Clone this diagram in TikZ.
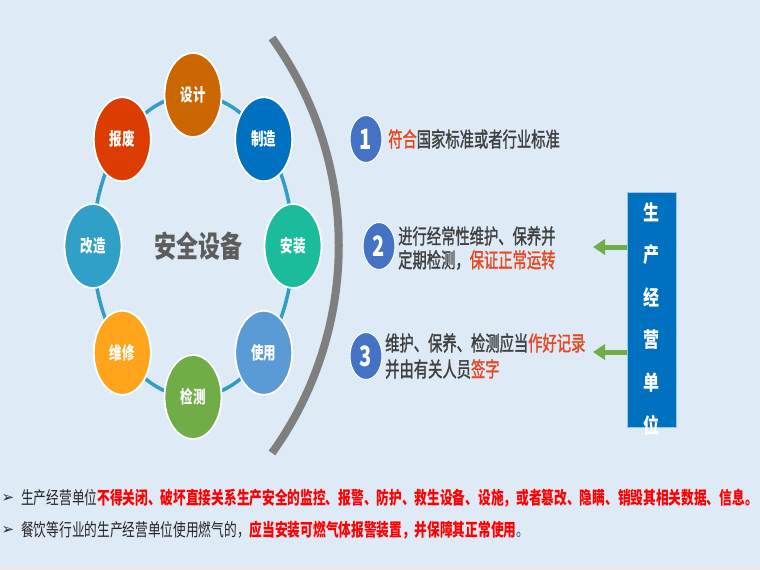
\documentclass[tikz,border=0pt]{standalone}
\usepackage{fontspec}
\setmainfont{Noto Sans CJK SC}
\newfontfamily\semifont[FakeBold=1.6]{Noto Sans CJK SC}
\newfontfamily\symfont{DejaVu Sans}
\usepackage{xcolor}
\usetikzlibrary{arrows.meta,positioning,calc,shapes.geometric}
\definecolor{pagebg}{HTML}{DEEBF7}
\definecolor{footgray}{HTML}{E6E8EC}
\definecolor{ringblue}{HTML}{2F9DC6}
\definecolor{arcgray}{HTML}{7F7F7F}
\definecolor{designorange}{HTML}{CC6600}
\definecolor{makeblue}{HTML}{0070C0}
\definecolor{installgreen}{HTML}{1BBC9B}
\definecolor{useblue}{HTML}{5B9BD5}
\definecolor{testgreen}{HTML}{70AD47}
\definecolor{repairorange}{HTML}{FFA41B}
\definecolor{rebuildblue}{HTML}{31A0C8}
\definecolor{scrapred}{HTML}{DD3C00}
\definecolor{numblue}{HTML}{4472C4}
\definecolor{textgray}{HTML}{404040}
\definecolor{hotred}{HTML}{E8461E}
\definecolor{unitblue}{HTML}{0070C0}
\definecolor{unitedge}{HTML}{9DC3E6}
\definecolor{feedgreen}{HTML}{70AD47}
\definecolor{alarmred}{HTML}{FF0000}
\definecolor{notegray}{HTML}{262626}
\definecolor{dotblue}{HTML}{2F5597}
\newcommand{\vstr}[2][1.4]{\scalebox{1}[#1]{#2}}

\begin{document}
\begin{tikzpicture}[x=1pt,y=-1pt,
  stage/.style={ellipse,draw=white,line width=1.8pt,minimum width=57pt,minimum height=84pt,
    inner sep=0pt,text=white,font=\fontsize{12.5}{14}\selectfont\bfseries},
  coretext/.style={inner sep=0pt,text=textgray!85,font=\fontsize{22}{24}\selectfont\bfseries},
  ringline/.style={ringblue,line width=3.5pt},
  numdot/.style={ellipse,fill=numblue,draw=white,line width=1pt,minimum width=32pt,minimum height=47pt,
    inner sep=0pt,text=white,font=\fontsize{20}{22}\selectfont\bfseries},
  point/.style={anchor=west,inner sep=0pt,text=textgray,font=\semifont\fontsize{14.3}{16}\selectfont},
  unitbox/.style={rectangle,fill=unitblue,draw=unitedge,line width=.6pt,minimum width=49pt,minimum height=235pt,inner sep=0pt},
  unitchar/.style={inner sep=0pt,text=white,font=\fontsize{16}{18}\selectfont\bfseries},
  feed/.style={feedgreen,line width=5pt,-{Triangle[length=12pt,width=15pt]}},
  bullet/.style={inner sep=0pt,text=notegray,font=\symfont\fontsize{15}{16}\selectfont},
  note/.style={anchor=west,inner sep=0pt,text=notegray,font=\fontsize{12.7}{14}\selectfont}]
\fill[pagebg] (0,0) rectangle (760,570);
\fill[footgray] (0,565) rectangle (760,570);
\useasboundingbox (0,0) rectangle (760,570);
% ring and stages
\coordinate (hub) at (193,246);
\draw[ringline] (hub) ellipse [x radius=100pt, y radius=151pt];
\foreach \ang/\nm/\lab/\col in {90/design/设计/designorange,45/make/制造/makeblue,0/install/安装/installgreen,
  -45/use/使用/useblue,-90/test/检测/testgreen,-135/repair/维修/repairorange,
  180/rebuild/改造/rebuildblue,135/scrap/报废/scrapred} {
  \node[stage,fill=\col] (\nm) at ({193+100*cos(\ang)},{246-151*sin(\ang)}) {\vstr{\lab}};
}
\node[coretext] (core) at (198,246) {\vstr[1.35]{安全设备}};
% gray bracket
\draw[arcgray,line width=8pt] (272,38) .. controls (361,162) and (361,329) .. (272,453);
% requirements
\node[numdot] (n1) at (366,139) {\vstr{1}};
\node[numdot] (n2) at (379,246) {\vstr{2}};
\node[numdot] (n3) at (366,356) {\vstr{3}};
\node[point] (p1) at (388,139) {\vstr[1.45]{\textcolor{hotred}{符合}国家标准或者行业标准}};
\node[point] (p2a) at (398,236) {\vstr[1.45]{进行经常性维护、保养并}};
\node[point] (p2b) at (398,260) {\vstr[1.45]{定期检测，\textcolor{hotred}{保证正常运转}}};
\node[point] (p3a) at (385,343) {\vstr[1.45]{维护、保养、检测应当\textcolor{hotred}{作好记录}}};
\node[point] (p3b) at (385,369) {\vstr[1.45]{并由有关人员\textcolor{hotred}{签字}}};
% unit box
\node[unitbox] (unit) at (651.5,309.5) {};
\foreach \ch [count=\i from 0] in {生,产,经,营,单,位} {
  \node[unitchar] (u\i) at (651,{212+42.6*\i}) {\vstr[1.3]{\ch}};
}
\coordinate (tip2) at (593,247);
\coordinate (tip3) at (593,352);
\draw[feed] (unit.west |- tip2) -- (tip2);
\draw[feed] (unit.west |- tip3) -- (tip3);
% notes
\node[bullet] (b1) at (8,498) {➢};
\node[bullet] (b2) at (8,530) {➢};
\node[note] (l1) at (21,498) {\vstr{生产经营单位\textcolor{alarmred}{\bfseries 不得关闭、破坏直接关系生产安全的监控、报警、防护、救生设备、设施，或者篡改、隐瞒、销毁其相关数据、信息。}}};
\node[note] (l2) at (21,530) {\vstr{餐饮等行业的生产经营单位使用燃气的，\textcolor{alarmred}{\bfseries 应当安装可燃气体报警装置，并保障其正常使用}\textcolor{dotblue}{。}}};
\end{tikzpicture}
\end{document}
